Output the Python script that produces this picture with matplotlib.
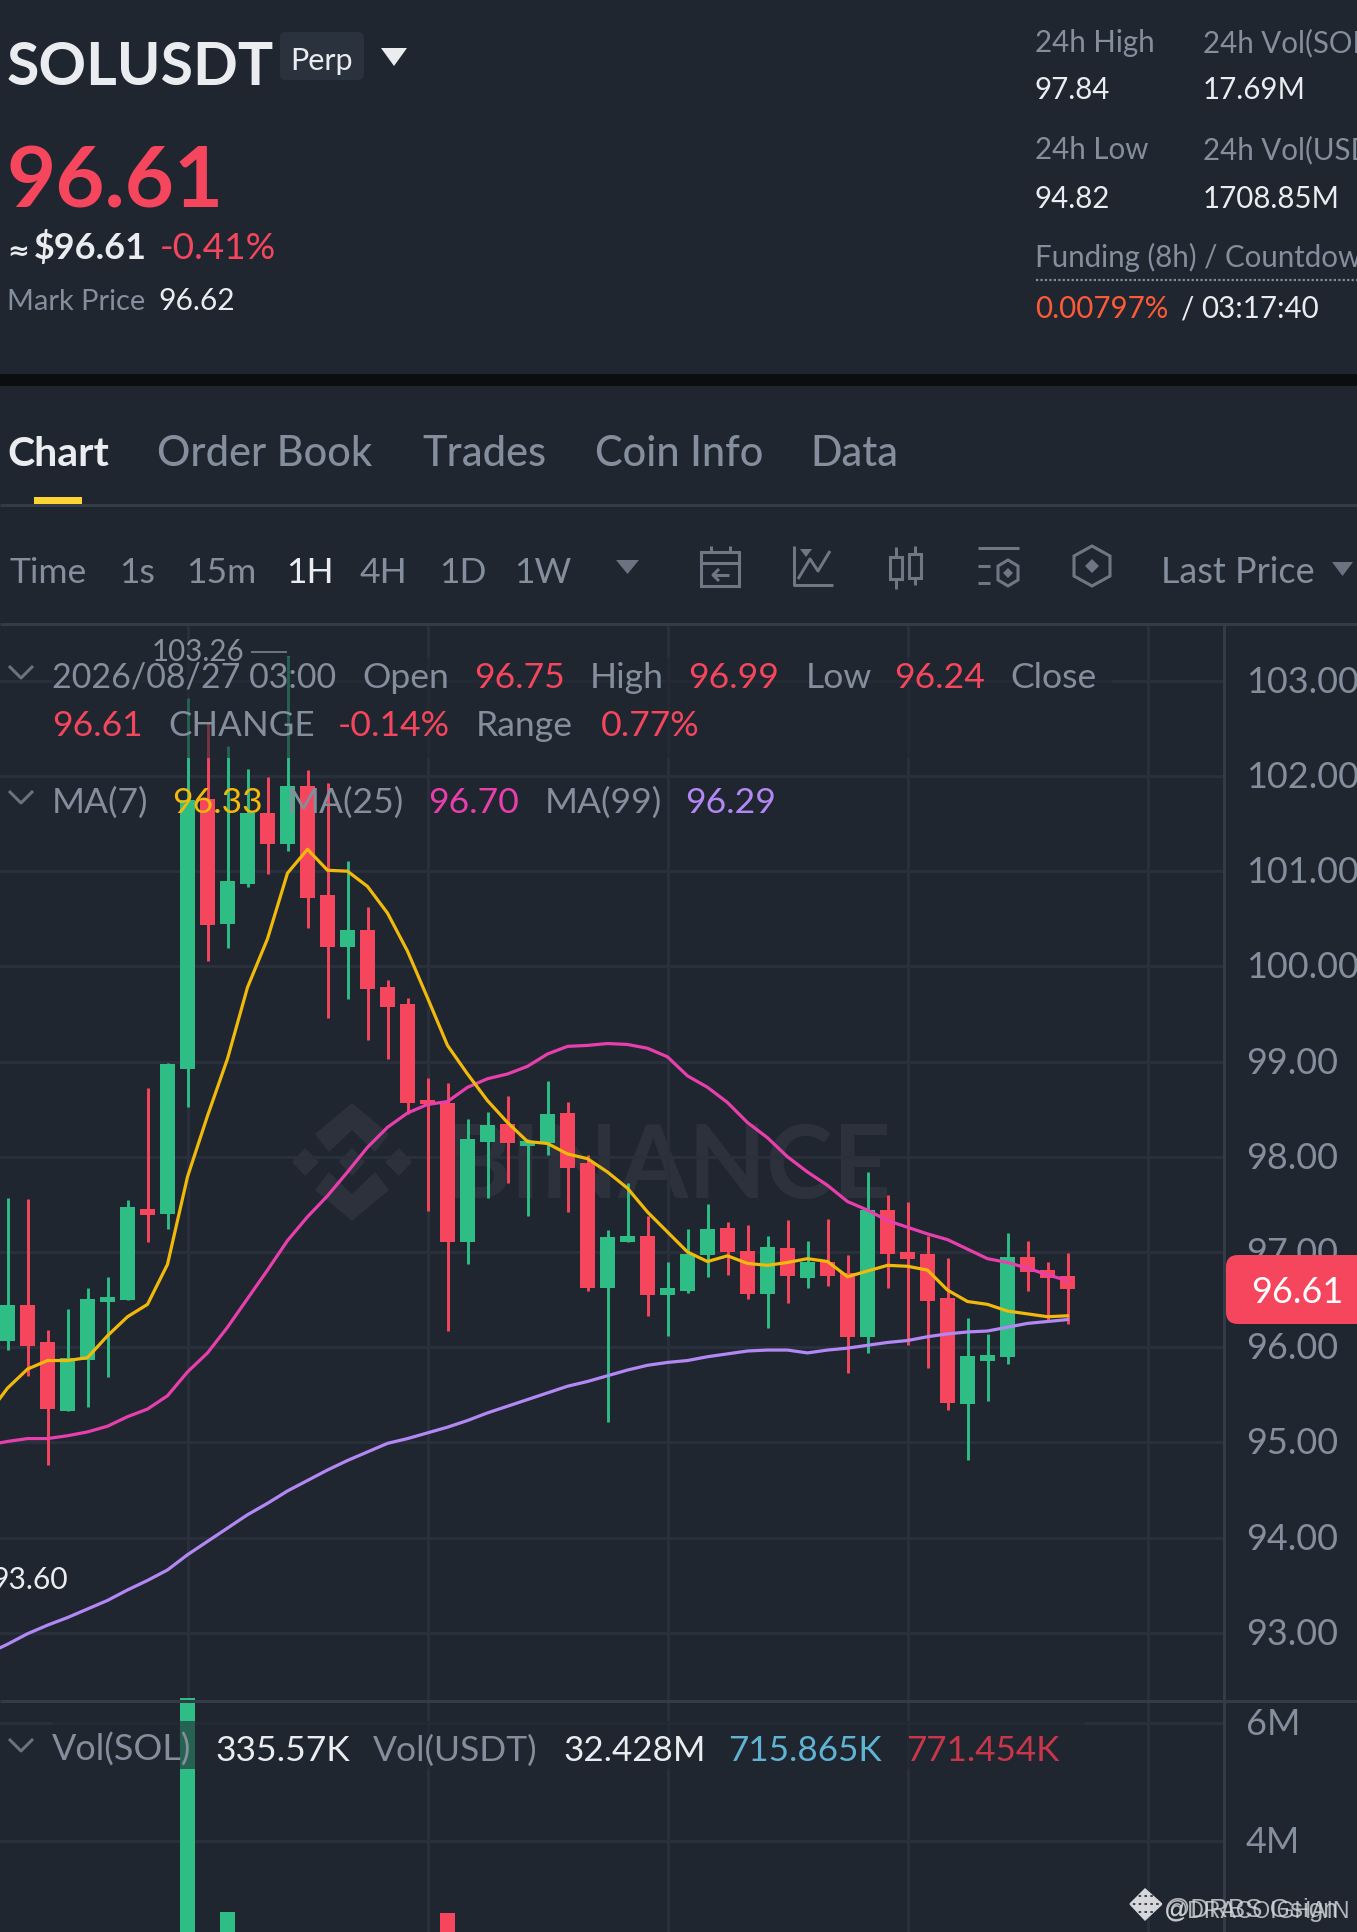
import matplotlib
matplotlib.use("Agg")
import matplotlib.pyplot as plt
from matplotlib.patches import Rectangle, Polygon, FancyBboxPatch
from matplotlib.transforms import ScaledTranslation

plt.rcParams['font.family'] = ['Lato', 'DejaVu Sans']

W, H = 1357, 1933
BG = '#1f2630'
GRID = '#2a303b'
SEP = '#333b47'
GRAY = '#848e9c'
WHITE = '#eaecef'
RED = '#f6465d'
GREEN = '#2ebd85'

# candles (1H)
opens = [96.07, 96.44, 96.05, 95.33, 95.87, 96.47, 96.50, 97.45, 97.40, 98.92,
         101.76, 100.45, 100.87, 101.61, 101.29, 101.89, 100.75, 100.20, 100.38, 99.78,
         99.60, 98.60, 98.57, 97.10, 98.16, 98.34, 98.11, 98.14, 98.46, 97.93,
         96.62, 97.11, 97.17, 96.55, 96.59, 96.97, 97.25, 97.01, 96.56, 97.04,
         96.73, 96.90, 96.78, 96.11, 97.44, 97.00, 96.98, 96.52, 95.40, 95.86,
         95.90, 96.95, 96.81, 96.75]
closes = [96.44, 96.01, 95.35, 95.89, 96.51, 96.53, 97.47, 97.39, 98.98, 101.75,
          100.44, 100.90, 101.61, 101.29, 101.89, 100.72, 100.20, 100.38, 99.76, 99.57,
          98.57, 98.55, 97.10, 98.19, 98.33, 98.14, 98.17, 98.45, 97.88, 96.62,
          97.16, 97.17, 96.55, 96.62, 96.98, 97.24, 97.00, 96.56, 97.05, 96.75,
          96.90, 96.75, 96.11, 97.44, 96.98, 96.93, 96.49, 95.41, 95.91, 95.92,
          96.95, 96.79, 96.73, 96.61]
highs = [97.57, 97.56, 96.18, 96.40, 96.62, 96.74, 97.55, 98.72, 98.99, 102.82,
         102.56, 102.31, 102.07, 101.99, 103.26, 102.06, 101.93, 101.11, 100.62, 99.86,
         99.67, 98.83, 98.78, 98.40, 98.47, 98.64, 98.19, 98.80, 98.58, 98.02,
         97.23, 97.72, 97.38, 96.90, 97.24, 97.50, 97.32, 97.28, 97.17, 97.34,
         97.12, 97.35, 96.97, 97.84, 97.60, 97.52, 97.17, 96.94, 96.31, 96.14,
         97.20, 97.12, 96.89, 96.99]
lows = [95.97, 95.70, 94.76, 95.33, 95.37, 95.69, 96.50, 97.10, 97.24, 98.52,
        100.06, 100.19, 100.83, 100.97, 101.21, 100.40, 99.46, 99.66, 99.23, 99.03,
        98.45, 97.43, 96.17, 96.87, 97.57, 97.72, 97.38, 98.02, 97.42, 96.59,
        95.21, 97.11, 96.33, 96.12, 96.57, 96.74, 96.76, 96.51, 96.20, 96.46,
        96.62, 96.64, 95.73, 95.94, 96.62, 96.02, 95.78, 95.34, 94.82, 95.43,
        95.82, 96.59, 96.29, 96.24]

# moving averages start one candle left of the screen
ma7 = [95.29, 95.57, 95.77, 95.86, 95.86, 95.89, 96.12, 96.32, 96.45, 96.87, 97.79,
       98.43, 99.03, 99.78, 100.29, 100.98, 101.23, 101.01, 101.00, 100.84, 100.56,
       100.16, 99.67, 99.17, 98.87, 98.59, 98.36, 98.16, 98.14, 98.03, 97.98,
       97.84, 97.67, 97.42, 97.21, 97.00, 96.90, 96.96, 96.88, 96.86, 96.89,
       96.93, 96.90, 96.74, 96.80, 96.86, 96.85, 96.81, 96.60, 96.48, 96.45,
       96.38, 96.35, 96.32, 96.33]
ma25 = [94.97, 95.01, 95.04, 95.04, 95.07, 95.11, 95.17, 95.27, 95.35, 95.49, 95.74,
        95.94, 96.21, 96.51, 96.81, 97.12, 97.37, 97.59, 97.84, 98.10, 98.31,
        98.46, 98.55, 98.58, 98.73, 98.82, 98.87, 98.95, 99.08, 99.16, 99.17,
        99.19, 99.18, 99.14, 99.05, 98.85, 98.73, 98.57, 98.36, 98.20, 98.00,
        97.84, 97.70, 97.53, 97.44, 97.33, 97.26, 97.19, 97.13, 97.03, 96.93,
        96.89, 96.83, 96.76, 96.70]
ma99 = [92.78, 92.88, 92.99, 93.08, 93.16, 93.25, 93.34, 93.45, 93.55, 93.66, 93.82,
        93.96, 94.10, 94.24, 94.36, 94.49, 94.60, 94.71, 94.81, 94.90, 94.99,
        95.04, 95.10, 95.16, 95.23, 95.31, 95.38, 95.45, 95.52, 95.59, 95.64,
        95.70, 95.76, 95.81, 95.84, 95.86, 95.90, 95.93, 95.96, 95.97, 95.97,
        95.94, 95.97, 95.99, 96.02, 96.05, 96.07, 96.11, 96.14, 96.16, 96.17,
        96.21, 96.25, 96.27, 96.29]

# only these volume bars reach the visible part of the lower pane
vol_idx = [9, 11, 22]
vol_values = [6.42, 2.80, 2.78]

price_ticks = [93, 94, 95, 96, 97, 98, 99, 100, 101, 102, 103]
vol_ticks = [4, 6]
time_ticks = [9, 21, 33, 45, 57]
tabs = [('Chart', 7), ('Order Book', 157), ('Trades', 422), ('Coin Info', 595), ('Data', 810)]
intervals = [('Time', 10), ('1s', 119), ('15m', 186), ('1H', 286), ('4H', 360), ('1D', 439), ('1W', 514)]


def pane(top, bottom, left=0, right=W, zorder=1):
    return fig.add_axes([left / W, 1 - bottom / H, (right - left) / W, (bottom - top) / H], zorder=zorder)


def pixel_axes(zorder):
    a = pane(0, H, zorder=zorder)
    a.set_xlim(0, W)
    a.set_ylim(H, 0)
    a.axis('off')
    a.patch.set_alpha(0)
    return a


def txt(x, y, s, px, color=GRAY, weight='normal', **kw):
    over.text(x, y, s, fontsize=px * 0.72, color=color, weight=weight, va='baseline', **kw)


def stroke(xs, ys, color=GRAY, lw=3, a=None, **kw):
    (a or over).plot(xs, ys, color=color, lw=lw * 0.72, solid_capstyle='butt', **kw)


def chevron(y):
    stroke([9, 21, 33], [y, y + 12, y], color='#6b7380', lw=3)


fig = plt.figure(figsize=(W / 100, H / 100), dpi=100, facecolor=BG)
page = pixel_axes(0)
page.patch.set_alpha(1)
over = pixel_axes(3)

# watermark goes under the candles
WM = '#2d313b'
page.text(445, 1198, 'BINANCE', fontsize=101 * 0.72, weight='bold', color=WM, va='baseline')
for pts in [[(352, 1104), (389, 1135), (375, 1153), (352, 1131), (329, 1153), (315, 1135)],
            [(352, 1222), (389, 1191), (375, 1173), (352, 1195), (329, 1173), (315, 1191)],
            [(352, 1149), (365, 1163), (352, 1177), (339, 1163)],
            [(305, 1149), (319, 1163), (305, 1177), (292, 1163)],
            [(399, 1149), (412, 1163), (399, 1177), (385, 1163)]]:
    page.add_patch(Polygon(pts, closed=True, color=WM, lw=0))

# price pane
ax = pane(625, 1702, right=1224, zorder=1)
ax.patch.set_alpha(0)
ax.set_xlim((0 - 7.5) / 20, (1224 - 7.5) / 20)
ax.set_ylim(97 - (1702 - 1253) / 95.2, 97 + (1253 - 625) / 95.2)
x = list(range(len(opens)))
colors = [GREEN if c >= o else RED for o, c in zip(opens, closes)]
ax.vlines(x, lows, highs, colors=colors, lw=2.1, zorder=3)
ax.bar(x, [max(abs(c - o), 0.02) for o, c in zip(opens, closes)],
       bottom=[min(o, c) for o, c in zip(opens, closes)], width=0.73, color=colors, zorder=3)
ma_x = list(range(-1, len(opens)))
ax.plot(ma_x, ma99, color='#b388f5', lw=2.3, zorder=4)
ax.plot(ma_x, ma25, color='#e83fad', lw=2.3, zorder=4)
ax.plot(ma_x, ma7, color='#f0b90b', lw=2.3, zorder=5)
ax.set_yticks(price_ticks)
ax.set_yticklabels(['%.2f' % p for p in price_ticks])
ax.set_xticks(time_ticks)

# volume pane
vax = pane(1698, H, right=1224, zorder=1)
vax.patch.set_alpha(0)
vax.set_xlim(ax.get_xlim())
vax.set_ylim(4 - (H - 1842) / 59, 6 + (1724 - 1698) / 59)
vax.bar(vol_idx, vol_values, width=0.73, color=[colors[i] for i in vol_idx], zorder=3)
vax.set_yticks(vol_ticks)
vax.set_yticklabels(['%dM' % v for v in vol_ticks])
vax.set_xticks(time_ticks)

for a in (ax, vax):
    a.grid(True, color=GRID, lw=2.2)
    a.set_axisbelow(True)
    for s in a.spines.values():
        s.set_visible(False)
    a.tick_params(axis='x', length=0, labelbottom=False)
    a.tick_params(axis='y', length=0, labelleft=False, labelright=True, pad=22 * 0.72,
                  labelsize=36 * 0.72, labelcolor=GRAY)
    # axis labels sit a little above their gridlines
    for lbl in a.get_yticklabels():
        lbl.set_transform(lbl.get_transform() + ScaledTranslation(0, 2.5 / 100, fig.dpi_scale_trans))

# half transparent strips behind the legend rows
over.add_patch(Rectangle((52, 658), 1060, 101, color=BG, alpha=0.6, lw=0))
over.add_patch(Rectangle((52, 1722), 1033, 48, color=BG, alpha=0.6, lw=0))

# separators
over.add_patch(Rectangle((0, 375), W, 12, color='#0b0e11', lw=0))
stroke([0, W], [505.5, 505.5], color=SEP)
stroke([0, W], [625, 625], color=SEP)
stroke([0, W], [1702, 1702], color=SEP)
stroke([1224, 1224], [625, H], color=SEP)
over.add_patch(Rectangle((34, 498), 48, 9, color='#fcd535', lw=0))

# header
txt(7, 85, 'SOLUSDT', 59, WHITE, 'bold')
over.add_patch(FancyBboxPatch((284, 37), 76, 40, boxstyle='round,pad=4,rounding_size=6', color='#2a323d', lw=0))
txt(290, 70, 'Perp', 30.5, WHITE)
over.add_patch(Polygon([(381, 49), (407, 49), (394, 67)], closed=True, color=WHITE, lw=0))
txt(6, 207, '96.61', 85, RED, 'bold')
txt(7, 259, '≈', 26, WHITE, 'bold', family=['DejaVu Sans'])
txt(34, 259, '$96.61', 36, WHITE, 'bold')
txt(160, 259, '-0.41%', 37, RED)
txt(7, 310, 'Mark Price', 29)
txt(158, 310, '96.62', 30, WHITE)

txt(1035, 52, '24h High', 29.5)
txt(1203, 52, '24h Vol(SOL)', 29.5, clip_on=True)
txt(1035, 99, '97.84', 29.5, WHITE)
txt(1203, 99, '17.69M', 29.5, WHITE)
txt(1035, 159, '24h Low', 29.5)
txt(1203, 159, '24h Vol(USDT)', 29.5, clip_on=True)
txt(1035, 208, '94.82', 29.5, WHITE)
txt(1203, 208, '1708.85M', 29.5, WHITE)
txt(1035, 267, 'Funding (8h) / Countdown', 29.5, clip_on=True)
over.plot([1036, W], [281, 281], color=GRAY, lw=1.6, ls=(0, (1, 1)))
txt(1035, 318, '0.00797%', 29.5, '#fd5a3a')
txt(1180, 318, '/', 29.5, WHITE)
txt(1201, 318, '03:17:40', 29.5, WHITE)

# tabs
for name, tx in tabs:
    txt(tx, 466, name, 41 if name == 'Chart' else 41.5, WHITE if name == 'Chart' else GRAY,
        'bold' if name == 'Chart' else 'medium')

# toolbar
for name, tx in intervals:
    txt(tx, 583, name, 35.5, WHITE if name == '1H' else GRAY)
over.add_patch(Polygon([(616, 561), (639, 561), (627.5, 575)], closed=True, color='#6b7380', lw=0))
txt(1161, 583, 'Last Price', 36)
over.add_patch(Polygon([(1332, 563), (1353, 563), (1342.5, 577)], closed=True, color='#6b7380', lw=0))

ICON = '#6f7785'
# calendar
over.add_patch(Rectangle((701, 553), 38, 34, fill=False, ec=ICON, lw=2.2))
stroke([701, 739], [564, 564], ICON)
stroke([711, 711], [547, 553], ICON)
stroke([730, 730], [547, 553], ICON)
stroke([713, 729], [576, 576], ICON)
stroke([719, 713, 719], [570, 576, 582], ICON)
# line chart
stroke([794, 794, 833], [547, 586, 586], ICON)
stroke([798, 810, 818, 830], [580, 560, 572, 552], ICON)
over.add_patch(Polygon([(800, 550), (812, 550), (806, 558)], closed=True, color=ICON, lw=0))
# candles
over.add_patch(Rectangle((890, 558), 12, 22, fill=False, ec=ICON, lw=2.2))
over.add_patch(Rectangle((909, 555), 12, 24, fill=False, ec=ICON, lw=2.2))
stroke([896, 896], [548, 558], ICON)
stroke([896, 896], [580, 590], ICON)
stroke([915, 915], [547, 555], ICON)
stroke([915, 915], [579, 586], ICON)
# settings list
stroke([978, 1019], [549, 549], ICON)
stroke([978, 990], [567, 567], ICON)
stroke([978, 990], [584, 584], ICON)
over.add_patch(Polygon([(1008, 561), (1018, 567), (1018, 581), (1008, 587), (998, 581), (998, 567)],
                       closed=True, fill=False, ec=ICON, lw=2.2))
over.add_patch(Polygon([(1008, 569), (1013, 574), (1008, 579), (1003, 574)], closed=True, color=ICON, lw=0))
# hexagon
over.add_patch(Polygon([(1092, 547), (1110, 557), (1110, 577), (1092, 587), (1074, 577), (1074, 557)],
                       closed=True, fill=False, ec=ICON, lw=2.2))
over.add_patch(Polygon([(1092, 560), (1099, 567), (1092, 574), (1085, 567)], closed=True, color=ICON, lw=0))

# legend rows
LEG = 35.5
chevron(667)
txt(52, 688, '2026/08/27 03:00', 34)
txt(362, 688, 'Open', LEG)
txt(474, 688, '96.75', LEG, RED)
txt(590, 688, 'High', LEG)
txt(688, 688, '96.99', LEG, RED)
txt(806, 688, 'Low', LEG)
txt(894, 688, '96.24', LEG, RED)
txt(1010, 688, 'Close', LEG)
txt(52, 736, '96.61', LEG, RED)
txt(168, 736, 'CHANGE', 35)
txt(338, 736, '-0.14%', LEG, RED)
txt(476, 736, 'Range', LEG)
txt(601, 736, '0.77%', LEG, RED)
chevron(792)
txt(52, 813, 'MA(7)', LEG)
txt(172, 813, '96.33', LEG, '#f0b90b')
txt(287, 813, 'MA(25)', LEG)
txt(428, 813, '96.70', LEG, '#e83fad')
txt(545, 813, 'MA(99)', LEG)
txt(685, 813, '96.29', LEG, '#b388f5')

# high and low markers
txt(152, 661, '103.26', 29.5, '#8a919c')
stroke([251, 287], [653, 653], '#6b7380', lw=2)
txt(68, 1589, '93.60', 30, WHITE, ha='right')

# volume legend
chevron(1740)
txt(52, 1761, 'Vol(SOL)', 36)
txt(216, 1761, '335.57K', 35.5, WHITE)
txt(373, 1761, 'Vol(USDT)', 35.5)
txt(563, 1761, '32.428M', 35, WHITE)
txt(728, 1761, '715.865K', 35, '#5fb4d4')
txt(906, 1761, '771.454K', 35, '#c9364a')

# last price tag
over.add_patch(FancyBboxPatch((1236, 1266), 160, 49, boxstyle='round,pad=10,rounding_size=12', color=RED, lw=0))
txt(1251, 1303, '96.61', 36, 'white')

# corner watermark, two strings printed over each other
over.add_patch(Polygon([(1145, 1889), (1163, 1905), (1145, 1922), (1129, 1905)], closed=True, color='#d5d7da', lw=0))
for ly in (1897, 1905, 1913):
    over.plot([1127, 1165], [ly, ly], color='#1f2630', lw=1.2, ls=(0, (1.5, 2)))
txt(1164, 1917, '@DRACOIGHAIN', 23, '#d8dade', family=['Liberation Sans', 'DejaVu Sans'], alpha=0.8)
txt(1164, 1917, '@DRBS Gsign', 26, '#d8dade', family=['Liberation Sans', 'DejaVu Sans'], alpha=0.8)

fig.savefig('out.png', dpi=100, facecolor=BG)
